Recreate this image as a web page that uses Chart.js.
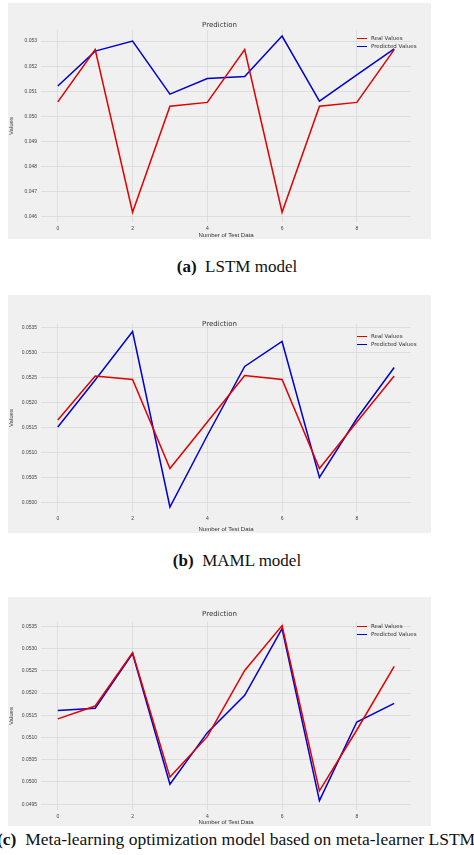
<!DOCTYPE html>
<html>
<head>
<meta charset="utf-8">
<script src="https://cdn.jsdelivr.net/npm/chart.js@4/dist/chart.umd.min.js"></script>
<style>
body { margin: 0; background: #fff; width: 474px; height: 855px; position: relative; overflow: hidden; font-family: "DejaVu Sans", sans-serif; }
.panel { position: absolute; left: 8px; width: 423px; background: #f0f0f0; }
.panel canvas { position: absolute; left: 0; top: 0; }
.ttl { position: absolute; width: 100%; text-align: center; font-size: 7px; color: #333; }
.leg { position: absolute; left: 349px; font-size: 5.5px; color: #333; line-height: 8px; }
.leg span { display: inline-block; width: 10px; height: 1.5px; vertical-align: middle; margin-right: 4px; }
.cap { position: absolute; width: 474px; text-align: center; font-family: "Liberation Serif", serif; font-size: 17px; color: #111; }
</style>
</head>
<body>
<div class="panel" id="p1" style="top:3px;height:236px"><canvas id="c1"></canvas>
  <div class="ttl" style="top:18px">Prediction</div>
  <div class="leg" style="top:31px"><span style="background:#e00000"></span>Real Values<br><span style="background:#0000cc"></span>Predicted Values</div></div>
<div class="cap" style="top:257px"><b>(a)</b>&nbsp; LSTM model</div>
<div class="panel" id="p2" style="top:295px;height:238px"><canvas id="c2"></canvas>
  <div class="ttl" style="top:25px">Prediction</div>
  <div class="leg" style="top:37px"><span style="background:#e00000"></span>Real Values<br><span style="background:#0000cc"></span>Predicted Values</div></div>
<div class="cap" style="top:551px"><b>(b)</b>&nbsp; MAML model</div>
<div class="panel" id="p3" style="top:597px;height:229px"><canvas id="c3"></canvas>
  <div class="ttl" style="top:13px">Prediction</div>
  <div class="leg" style="top:25px"><span style="background:#e00000"></span>Real Values<br><span style="background:#0000cc"></span>Predicted Values</div></div>
<div class="cap" style="top:829px;text-align:left;left:-3px;white-space:nowrap;font-size:17.5px"><b>(c)</b>&nbsp; Meta-learning optimization model based on meta-learner LSTM</div>
<script>
// Données
var testIndex = [0, 1, 2, 3, 4, 5, 6, 7, 8, 9];
var xTicks = [0, 2, 4, 6, 8];

var lstmReal = [0.05058, 0.05266, 0.04619, 0.05041, 0.05056, 0.05266, 0.04619, 0.05041, 0.05056, 0.05266];
var lstmPred = [0.05121, 0.05260, 0.05300, 0.05089, 0.05151, 0.05159, 0.05320, 0.05061, 0.05165, 0.05269];
var lstmTicks = [0.046, 0.047, 0.048, 0.049, 0.050, 0.051, 0.052, 0.053];

var mamlReal = [0.05165, 0.05253, 0.05246, 0.05068, 0.05161, 0.05254, 0.05246, 0.05068, 0.05161, 0.05253];
var mamlPred = [0.05151, 0.05245, 0.05342, 0.04991, 0.05134, 0.05272, 0.05322, 0.05050, 0.05168, 0.05270];
var mamlTicks = [0.0500, 0.0505, 0.0510, 0.0515, 0.0520, 0.0525, 0.0530, 0.0535];

var metaReal = [0.05142, 0.05171, 0.05291, 0.05011, 0.05102, 0.05251, 0.05352, 0.04980, 0.05117, 0.05260];
var metaPred = [0.05161, 0.05166, 0.05289, 0.04995, 0.05111, 0.05195, 0.05345, 0.04958, 0.05135, 0.05177];
var metaTicks = [0.0495, 0.0500, 0.0505, 0.0510, 0.0515, 0.0520, 0.0525, 0.0530, 0.0535];

function desenhar(id, real, pred, ticks, yMin, yMax, decimais, w, h, areaTop, areaBottom) {
    var cv = document.getElementById(id);
    cv.width = w; cv.height = h;
    cv.style.width = w + 'px'; cv.style.height = h + 'px';
    var grid = { color: '#d9d9d9', lineWidth: 0.8, drawTicks: false };
    new Chart(cv.getContext('2d'), {
        type: 'line',
        data: {
            datasets: [
                { label: 'Real Values', data: testIndex.map((x, i) => ({ x: x, y: real[i] })), borderColor: '#e00000', borderWidth: 1.5, pointRadius: 0, tension: 0 },
                { label: 'Predicted Values', data: testIndex.map((x, i) => ({ x: x, y: pred[i] })), borderColor: '#0000cc', borderWidth: 1.5, pointRadius: 0, tension: 0 }
            ]
        },
        options: {
            responsive: false, animation: false, devicePixelRatio: 1,
            layout: { padding: { top: areaTop, right: 20, bottom: 0, left: 0 } },
            plugins: { legend: { display: false }, tooltip: { enabled: false } },
            scales: {
                x: {
                    type: 'linear', min: -0.45, max: 9.45,
                    afterBuildTicks: s => { s.ticks = xTicks.map(v => ({ value: v })); },
                    afterFit: s => { s.height = h - areaBottom; },
                    grid: grid, border: { display: false },
                    ticks: { font: { size: 5 }, color: '#444', padding: 4 },
                    title: { display: true, text: 'Number of Test Data', font: { size: 6 }, color: '#333', padding: 0 }
                },
                y: {
                    min: yMin, max: yMax,
                    afterBuildTicks: s => { s.ticks = ticks.map(v => ({ value: v })); },
                    afterFit: s => { s.width = 33; },
                    grid: grid, border: { display: false },
                    ticks: { font: { size: 5 }, color: '#444', padding: 4, callback: v => v.toFixed(decimais) },
                    title: { display: true, text: 'Values', font: { size: 6 }, color: '#333', padding: 0 }
                }
            }
        }
    });
}

desenhar('c1', lstmReal, lstmPred, lstmTicks, 0.0458, 0.05344, 3, 423, 236, 27, 219);
desenhar('c2', mamlReal, mamlPred, mamlTicks, 0.04981, 0.05357, 4, 423, 238, 29, 217);
desenhar('c3', metaReal, metaPred, metaTicks, 0.04937, 0.0536, 4, 423, 229, 25, 213);
</script>
</body>
</html>
